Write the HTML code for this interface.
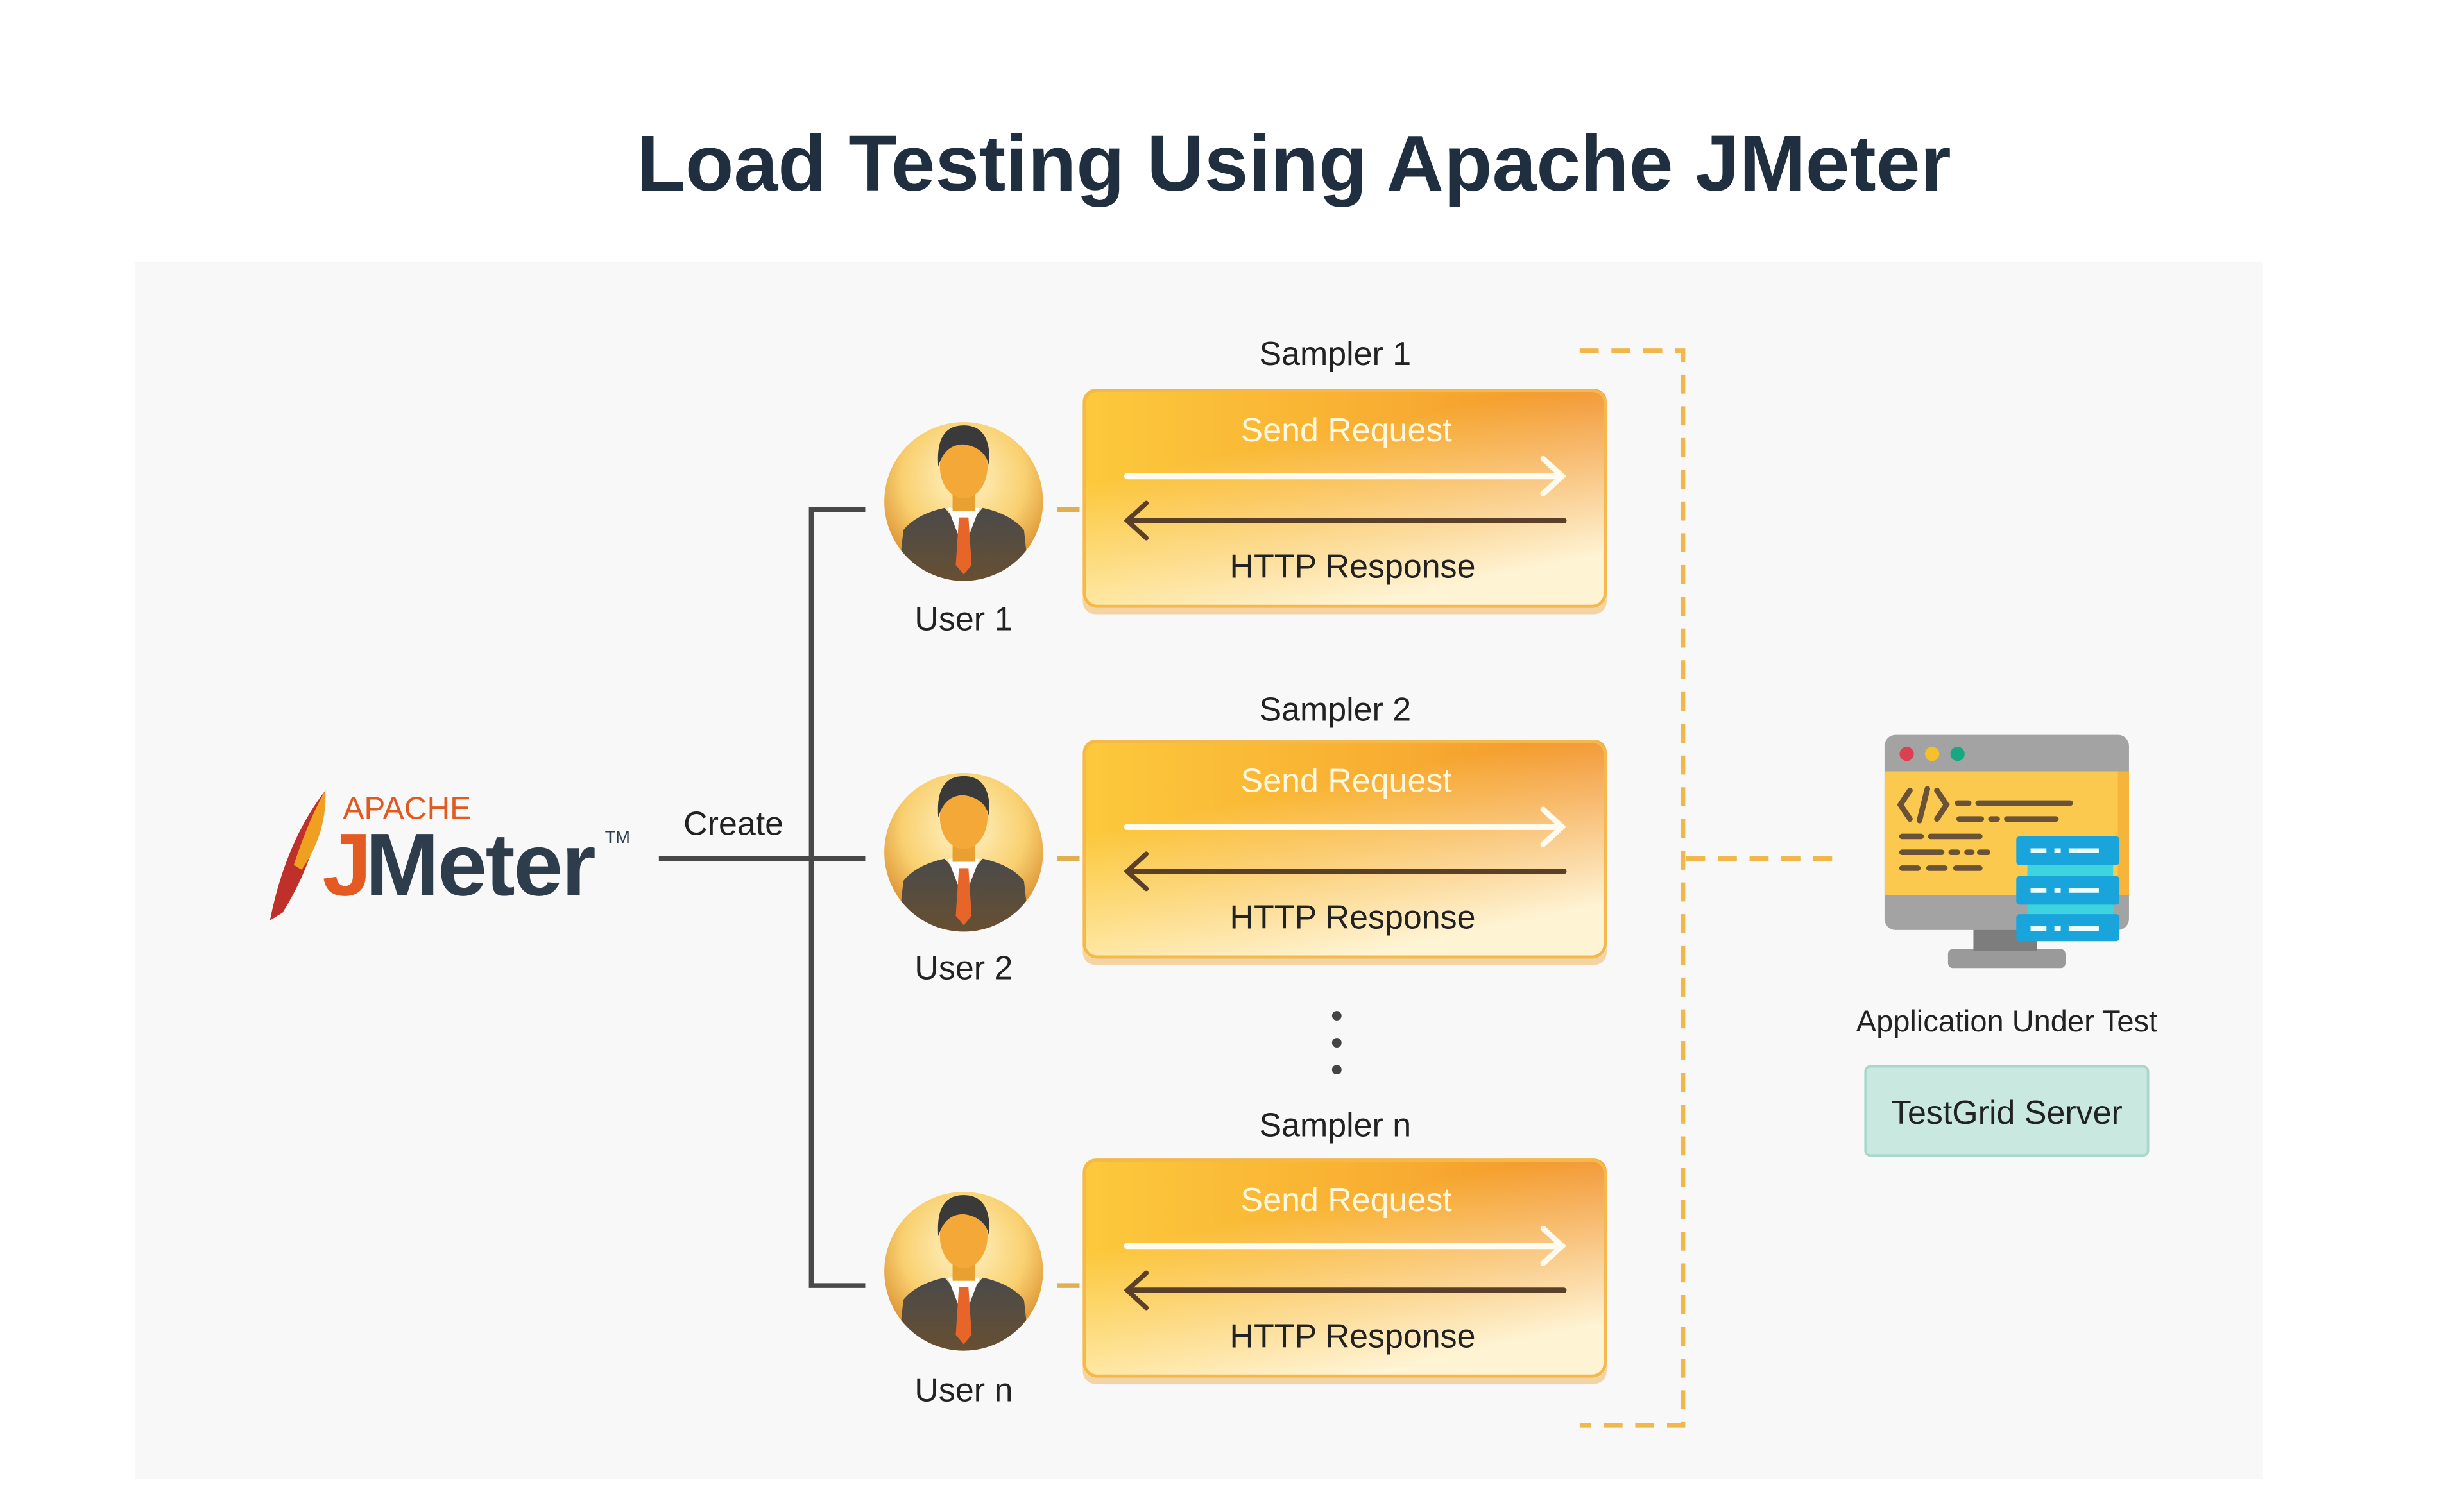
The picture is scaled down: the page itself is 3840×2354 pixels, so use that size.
<!DOCTYPE html>
<html><head><meta charset="utf-8"><style>
html,body{margin:0;padding:0;background:#fff}
svg{display:block}
text{font-family:"Liberation Sans",sans-serif}
</style></head><body>
<svg width="3840" height="2354" viewBox="0 0 1552 951.4" xmlns="http://www.w3.org/2000/svg">
<defs>
<linearGradient id="bx" x1="0" y1="0" x2="1" y2="0">
<stop offset="0" stop-color="#fcc93c"/><stop offset="0.6" stop-color="#f8ad32"/><stop offset="1" stop-color="#f2922c"/>
</linearGradient>
<linearGradient id="bw" x1="0" y1="0" x2="0.5" y2="1">
<stop offset="0.35" stop-color="#fff8dc" stop-opacity="0"/><stop offset="1" stop-color="#fff8dc" stop-opacity="0.95"/>
</linearGradient>
<radialGradient id="uc" cx="0.5" cy="0.35" r="0.65">
<stop offset="0" stop-color="#fff4c8"/><stop offset="0.6" stop-color="#f9d070"/><stop offset="1" stop-color="#d88a2a"/>
</radialGradient>
<linearGradient id="suit" x1="0" y1="0" x2="0" y2="1">
<stop offset="0" stop-color="#4a4a4a"/><stop offset="1" stop-color="#6a5030"/>
</linearGradient>
<g id="user">
<clipPath id="cc"><circle cx="0" cy="0" r="50"/></clipPath>
<circle cx="0" cy="0" r="50" fill="url(#uc)"/>
<g clip-path="url(#cc)">
<path d="M-42 55 L-38 18 Q-30 8 -12 4 L0 18 L12 4 Q30 8 38 18 L42 55 Z" fill="url(#suit)"/>
<path d="M-10 4 L0 30 L10 4 Z" fill="#fff"/>
<path d="M-3 10 L3 10 L5 40 L0 46 L-5 40 Z" fill="#e8652a"/>
<rect x="-7" y="-8" width="14" height="14" fill="#e8a030"/>
<ellipse cx="0" cy="-22" rx="15" ry="20" fill="#f4a838"/>
<path d="M-16 -22 Q-18 -48 0 -48 Q18 -48 16 -22 Q14 -34 0 -36 Q-12 -36 -16 -22 Z" fill="#3a3a3a"/>
</g>
</g>
<g id="box">
<rect x="0" y="2" width="330" height="140" rx="8" fill="#f0b050" opacity="0.5"/>
<rect x="0" y="0" width="330" height="138" rx="8" fill="url(#bx)"/>
<rect x="0" y="0" width="330" height="138" rx="8" fill="url(#bw)"/>
<rect x="1" y="1" width="328" height="136" rx="8" fill="none" stroke="#f5b84a" stroke-width="2"/>
<text x="166" y="33" font-size="21" fill="#fff8e0" text-anchor="middle">Send Request</text>
<line x1="28" y1="55" x2="300" y2="55" stroke="#fffbef" stroke-width="4" stroke-linecap="round"/>
<path d="M290 44 L302 55 L290 66" fill="none" stroke="#fffbef" stroke-width="3.5" stroke-linecap="round"/>
<line x1="30" y1="83" x2="303" y2="83" stroke="#5a4028" stroke-width="3.5" stroke-linecap="round"/>
<path d="M40 72 L28 83 L40 94" fill="none" stroke="#5a4028" stroke-width="3" stroke-linecap="round"/>
<text x="170" y="119" font-size="21" fill="#222" text-anchor="middle">HTTP Response</text>
</g>
</defs>

<rect x="85" y="165" width="1340" height="767" fill="#f8f8f8"/>
<text x="815" y="120" font-size="50" font-weight="bold" fill="#1f2f40" text-anchor="middle">Load Testing Using Apache JMeter</text>

<!-- JMeter logo -->
<path d="M170 580 Q180 530 205 498 Q200 540 178 575 Z" fill="#c0302a"/>
<path d="M185 545 Q195 515 205 498 Q206 525 190 548 Z" fill="#f0a020"/>
<text x="216" y="516" font-size="20" fill="#e05a20">APACHE</text>
<text x="203" y="564" font-size="56" font-weight="bold" fill="#e35a22">J</text>
<text x="230" y="564" font-size="56" font-weight="bold" fill="#2e3d4c" letter-spacing="-1">Meter</text>
<text x="381" y="531" font-size="11" fill="#2e3d4c">TM</text>

<text x="462" y="526" font-size="21" fill="#222" text-anchor="middle">Create</text>
<g stroke="#484848" stroke-width="3" fill="none">
<line x1="415" y1="541" x2="545" y2="541"/>
<path d="M545 321 H511 V810 H545"/>
</g>

<use href="#user" x="607" y="316"/>
<use href="#user" x="607" y="537"/>
<use href="#user" x="607" y="801"/>
<text x="607" y="397" font-size="21" fill="#222" text-anchor="middle">User 1</text>
<text x="607" y="617" font-size="21" fill="#222" text-anchor="middle">User 2</text>
<text x="607" y="883" font-size="21" fill="#222" text-anchor="middle">User n</text>

<g stroke="#e0b050" stroke-width="3">
<line x1="666" y1="321" x2="680" y2="321"/>
<line x1="666" y1="541" x2="680" y2="541"/>
<line x1="666" y1="810" x2="680" y2="810"/>
</g>

<text x="841" y="230" font-size="21" fill="#222" text-anchor="middle">Sampler 1</text>
<text x="841" y="454" font-size="21" fill="#222" text-anchor="middle">Sampler 2</text>
<text x="841" y="716" font-size="21" fill="#222" text-anchor="middle">Sampler n</text>
<use href="#box" x="682" y="245"/>
<use href="#box" x="682" y="466"/>
<use href="#box" x="682" y="730"/>

<circle cx="842" cy="640" r="3" fill="#444"/>
<circle cx="842" cy="657" r="3" fill="#444"/>
<circle cx="842" cy="674" r="3" fill="#444"/>

<g stroke="#f0b84a" stroke-width="3" fill="none" stroke-dasharray="12 8">
<path d="M995 221 H1060 V898 H995"/>
<line x1="1062" y1="541" x2="1162" y2="541"/>
</g>

<!-- monitor -->
<rect x="1227" y="598" width="74" height="12" rx="3" fill="#9a9a9a"/>
<rect x="1243" y="583" width="40" height="16" fill="#7d7d7d"/>
<rect x="1187" y="463" width="154" height="123" rx="7" fill="#a3a3a3"/>
<rect x="1187" y="486" width="154" height="78" fill="#fbc94e"/>
<rect x="1334" y="486" width="7" height="78" fill="#f6b53a"/>
<circle cx="1201" cy="475" r="4.5" fill="#dc4050"/>
<circle cx="1217" cy="475" r="4.5" fill="#f5c028"/>
<circle cx="1233" cy="475" r="4.5" fill="#16a880"/>
<g stroke="#6a5238" stroke-width="3.5" stroke-linecap="round" fill="none">
<path d="M1203 498 L1197 507 L1203 516"/><path d="M1214 497 L1209 517"/><path d="M1220 498 L1226 507 L1220 516"/>
<path d="M1233 506 H1240 M1246 506 H1304 M1234 516 H1248 M1254 516 H1258 M1264 516 H1295"/>
<path d="M1198 527 H1210 M1216 527 H1247 M1198 537 H1223 M1229 537 H1233 M1239 537 H1242 M1247 537 H1252 M1198 547 H1208 M1215 547 H1225 M1232 547 H1247"/>
</g>
<rect x="1277" y="540" width="54" height="50" fill="#3dd4e0"/>
<g fill="#1aa4dc">
<rect x="1270" y="527" width="65" height="18" rx="2"/>
<rect x="1270" y="552" width="65" height="18" rx="2"/>
<rect x="1270" y="576" width="65" height="17" rx="2"/>
</g>
<g stroke="#eaffff" stroke-width="3">
<path d="M1279 536 H1289 M1294 536 H1298 M1303 536 H1322 M1279 561 H1289 M1294 561 H1298 M1303 561 H1322 M1279 585 H1289 M1294 585 H1298 M1303 585 H1322"/>
</g>

<text x="1264" y="650" font-size="19" fill="#222" text-anchor="middle">Application Under Test</text>
<rect x="1175" y="672" width="178" height="56" rx="3" fill="#c8e8e0" stroke="#a8d8cc" stroke-width="1.5"/>
<text x="1264" y="708" font-size="21" fill="#222" text-anchor="middle">TestGrid Server</text>
</svg>
</body></html>
